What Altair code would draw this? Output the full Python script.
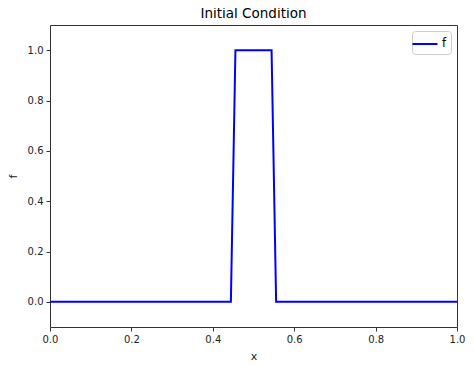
import altair as alt
import pandas as pd

x_vals = [0.0, 0.4444, 0.4556, 0.5444, 0.5556, 1.0]
f_vals = [0.0, 0.0, 1.0, 1.0, 0.0, 0.0]
series = ["f"] * len(x_vals)

df = pd.DataFrame({"x": x_vals, "f": f_vals, "series": series, "order": list(range(len(x_vals)))})

font = "DejaVu Sans"

chart = (
    alt.Chart(df)
    .mark_line(strokeWidth=2, clip=True)
    .encode(
        x=alt.X("x:Q", scale=alt.Scale(domain=[0, 1], nice=False, zero=False),
                axis=alt.Axis(values=[0, 0.2, 0.4, 0.6, 0.8, 1.0], format=".1f", title="x")),
        y=alt.Y("f:Q", scale=alt.Scale(domain=[-0.1, 1.1], nice=False, zero=False),
                axis=alt.Axis(values=[0, 0.2, 0.4, 0.6, 0.8, 1.0], format=".1f", title="f")),
        order="order:Q",
        color=alt.Color("series:N", scale=alt.Scale(range=["#0000ff"]),
                        legend=alt.Legend(title=None, orient="top-right",
                                          symbolType="M-1.65,0L1.65,0",
                                          symbolStrokeWidth=2, symbolSize=230, labelFontSize=11.5,
                                          labelFont=font, labelOffset=8,
                                          strokeColor="#cccccc", cornerRadius=3,
                                          padding=4, fillColor="white", offset=6)),
    )
    .properties(
        width=407, height=302,
        title=alt.TitleParams("Initial Condition", font=font, fontSize=13.5, fontWeight="normal", offset=5),
        autosize=alt.AutoSizeParams(type="none"),
        padding={"left": 42, "top": 17, "right": 9, "bottom": 44},
    )
    .configure_view(stroke="#333333", strokeWidth=1)
    .configure_axis(
        grid=False, domain=False, tickColor="#333333", tickSize=4, tickWidth=1,
        labelFont=font, labelFontSize=10, labelColor="#222222", labelPadding=3,
        labelFlush=False,
        titleFont=font, titleFontSize=11, titleFontWeight="normal", titleColor="#222222",
    )
    .configure_axisX(titlePadding=6)
    .configure_axisY(titlePadding=9)
)

chart.save("out.html", embed_options={"renderer": "svg", "actions": False})
